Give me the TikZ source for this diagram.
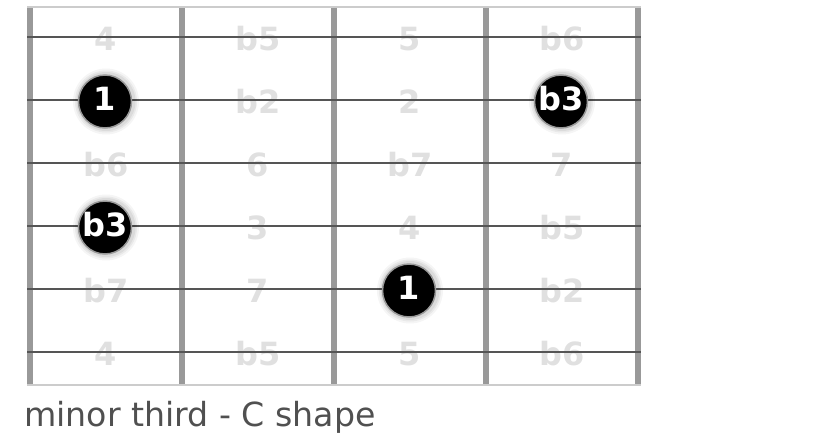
\documentclass[tikz,border=0pt]{standalone}
\usepackage{fontspec}
\setmainfont{DejaVu Sans}
\newfontfamily\boldlab{DejaVu Sans Bold}
\definecolor{fretc}{HTML}{999999}
\definecolor{stringc}{HTML}{555555}
\definecolor{borderc}{HTML}{CCCCCC}
\definecolor{labc}{HTML}{E0E0E0}
\definecolor{capc}{HTML}{505050}
\definecolor{dotedge}{HTML}{9A9A9A}
\tikzset{
  fretline/.style={draw=fretc, line width=6pt},
  stringline/.style={draw=stringc, line width=2.4pt},
  edgeline/.style={draw=borderc, line width=2pt},
  lab/.style={text=labc, font=\boldlab\fontsize{32}{32}\selectfont, anchor=base, inner sep=0pt},
  dottxt/.style={text=white, font=\boldlab\fontsize{32}{32}\selectfont, anchor=base, inner sep=0pt},
  dotc/.style={circle, fill=black, draw=dotedge, line width=1.5pt, minimum size=53pt, inner sep=0pt},
}
\begin{document}
\begin{tikzpicture}[x=1pt,y=-1pt]
\useasboundingbox (0,0) rectangle (840,442);
% labels (behind strings)
\foreach \t/\c/\r [count=\i] in {4/0/0,b5/1/0,5/2/0,b6/3/0,
  b2/1/1,2/2/1,
  b6/0/2,6/1/2,b7/2/2,7/3/2,
  3/1/3,4/2/3,b5/3/3,
  b7/0/4,7/1/4,b2/3/4,
  4/0/5,b5/1/5,5/2/5,b6/3/5}
  \node[lab] (l\i) at ({106+152*\c},{50+63*\r}) {\t};
% frets
\foreach \k in {0,...,4}{
  \coordinate (ft\k) at ({30+152*\k},7);
  \coordinate (fb\k) at ({30+152*\k},385);
  \draw[fretline] (ft\k) -- (fb\k);
}
% borders
\coordinate (bl) at (27,7); \coordinate (br) at (641,7);
\coordinate (cl) at (27,385); \coordinate (cr) at (641,385);
\draw[edgeline] (bl) -- (br);
\draw[edgeline] (cl) -- (cr);
% strings
\foreach \r in {0,...,5}{
  \coordinate (sl\r) at (27,{37+63*\r});
  \coordinate (sr\r) at (641,{37+63*\r});
  \draw[stringline] (sl\r) -- (sr\r);
}
% dots
\foreach \t/\c/\r/\n in {1/0/1/a, b3/3/1/b, b3/0/3/c, 1/2/4/d}{
  \foreach \rr/\op in {33/0.04,31/0.05,29.5/0.06}
    \fill[black, opacity=\op] ({106+152*\c},{38.5+63*\r}) circle (\rr);
  \node[dotc] (d\n) at ({105+152*\c},{38.5+63*\r}) {};
  \node[dottxt] (t\n) at ({105+152*\c},{47+63*\r}) {\t};
}
\node[text=capc, font=\fontsize{33.2}{33.2}\selectfont, anchor=base west, inner sep=0pt] (cap) at (24,426) {minor third - C shape};
\end{tikzpicture}
\end{document}
